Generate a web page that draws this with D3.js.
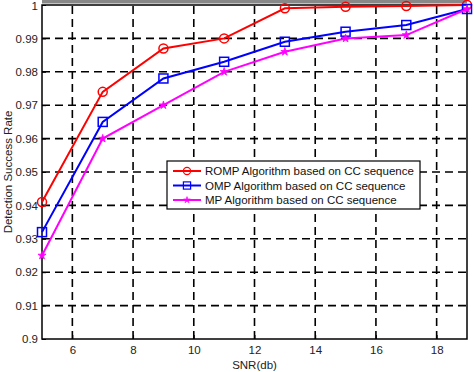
<!DOCTYPE html>
<html lang="en">
<head>
<meta charset="utf-8">
<script src="https://d3js.org/d3.v7.min.js"></script>
<style>
    body { margin: 0; background: #fff; }
    svg { display: block; font-family: "Liberation Sans", Arial, sans-serif; }
</style>
</head>
<body>
<div id="chart"></div>
<script>
    // values
    const snr = [5, 7, 9, 11, 13, 15, 17, 19];
    const romp = [0.941, 0.974, 0.987, 0.990, 0.999, 0.9995, 0.9997, 1.0];
    const omp = [0.932, 0.965, 0.978, 0.983, 0.989, 0.992, 0.994, 0.9988];
    const mp = [0.925, 0.960, 0.970, 0.980, 0.986, 0.990, 0.991, 0.9988];
    const seriesNames = ["ROMP Algorithm based on CC sequence",
        "OMP Algorithm based on CC sequence",
        "MP Algorithm based on CC sequence"];
    const xTicks = [6, 8, 10, 12, 14, 16, 18];
    const yTicks = [0.9, 0.91, 0.92, 0.93, 0.94, 0.95, 0.96, 0.97, 0.98, 0.99, 1];

    const series = [
        {name: seriesNames[0], values: romp, color: "#ff0000", marker: "circle"},
        {name: seriesNames[1], values: omp, color: "#0000ff", marker: "square"},
        {name: seriesNames[2], values: mp, color: "#ff00ff", marker: "star"}
    ];

    const width = 474, height = 372;
    const margin = {top: 5, right: 7, bottom: 33, left: 42};

    const svg = d3.select("#chart").append("svg")
        .attr("width", width).attr("height", height);

    const x = d3.scaleLinear().domain([5, 19]).range([margin.left, width - margin.right]);
    const y = d3.scaleLinear().domain([0.9, 1]).range([height - margin.bottom, margin.top]);

    // grid
    const grid = svg.append("g").attr("stroke", "#000").attr("stroke-width", 1.6)
        .attr("stroke-dasharray", "8,5");
    grid.selectAll(".gx").data(xTicks).join("line")
        .attr("x1", d => x(d)).attr("x2", d => x(d))
        .attr("y1", y(0.9)).attr("y2", y(1));
    grid.selectAll(".gy").data(yTicks.slice(1, -1)).join("line")
        .attr("y1", d => y(d)).attr("y2", d => y(d))
        .attr("x1", x(5)).attr("x2", x(19));

    // axes, ticks inward
    svg.append("g")
        .attr("transform", `translate(0,${y(0.9)})`)
        .call(d3.axisBottom(x).tickValues(xTicks).tickSizeInner(-4).tickSizeOuter(0).tickPadding(7))
        .call(g => g.select(".domain").remove())
        .call(g => g.selectAll("text").attr("font-size", 11.5).attr("fill", "#222"));
    svg.append("g")
        .attr("transform", `translate(${x(5)},0)`)
        .call(d3.axisLeft(y).tickValues(yTicks).tickFormat(d3.format("~g")).tickSizeInner(-4).tickSizeOuter(0).tickPadding(4))
        .call(g => g.select(".domain").remove())
        .call(g => g.selectAll("text").attr("font-size", 11.5).attr("fill", "#222"))
        .call(g => g.select(".tick:last-of-type text").attr("dy", "0.42em"));

    // box
    svg.append("rect")
        .attr("x", x(5)).attr("y", y(1))
        .attr("width", x(19) - x(5)).attr("height", y(0.9) - y(1))
        .attr("fill", "none").attr("stroke", "#000").attr("stroke-width", 1.5);
    svg.append("rect").attr("x", x(5)).attr("y", 0)
        .attr("width", x(19) - x(5)).attr("height", y(1) - 1.5)
        .attr("fill", "#888");

    const line = d3.line().x((d, i) => x(snr[i])).y(d => y(d));

    function drawMarker(g, type, color) {
        if (type === "circle") {
            g.append("circle").attr("r", 4.5).attr("fill", "none").attr("stroke", color).attr("stroke-width", 1.5);
        } else if (type === "square") {
            g.append("rect").attr("x", -4.5).attr("y", -4.5).attr("width", 9).attr("height", 9)
                .attr("fill", "none").attr("stroke", color).attr("stroke-width", 1.5);
        } else {
            g.append("path").attr("d", d3.symbol(d3.symbolStar, 20)())
                .attr("fill", color).attr("stroke", color).attr("stroke-width", 0.8);
        }
    }

    series.forEach(s => {
        svg.append("path")
            .attr("d", line(s.values))
            .attr("fill", "none").attr("stroke", s.color).attr("stroke-width", 2);
        s.values.forEach((v, i) => {
            const g = svg.append("g").attr("transform", `translate(${x(snr[i])},${y(v)})`);
            drawMarker(g, s.marker, s.color);
        });
    });

    // legend
    const lg = svg.append("g").attr("transform", "translate(167,161)");
    lg.append("rect").attr("width", 253).attr("height", 48)
        .attr("fill", "#fff").attr("stroke", "#000").attr("stroke-width", 1.2);
    series.forEach((s, i) => {
        const ly = 10 + i * 14.5;
        lg.append("line").attr("x1", 6).attr("x2", 34).attr("y1", ly).attr("y2", ly)
            .attr("stroke", s.color).attr("stroke-width", 2);
        const m = lg.append("g").attr("transform", `translate(20,${ly}) scale(0.8)`);
        drawMarker(m, s.marker, s.color);
        lg.append("text").attr("x", 38).attr("y", ly + 4)
            .attr("font-size", 11.5).attr("fill", "#111").text(s.name);
    });

    // labels
    svg.append("text")
        .attr("x", x(12)).attr("y", 369)
        .attr("text-anchor", "middle").attr("font-size", 11.5).attr("fill", "#222")
        .text("SNR(db)");
    svg.append("text")
        .attr("transform", `translate(12,${(y(0.9) + y(1)) / 2}) rotate(-90)`)
        .attr("text-anchor", "middle").attr("font-size", 11.5).attr("fill", "#222")
        .text("Detection Success Rate");
</script>
</body>
</html>
